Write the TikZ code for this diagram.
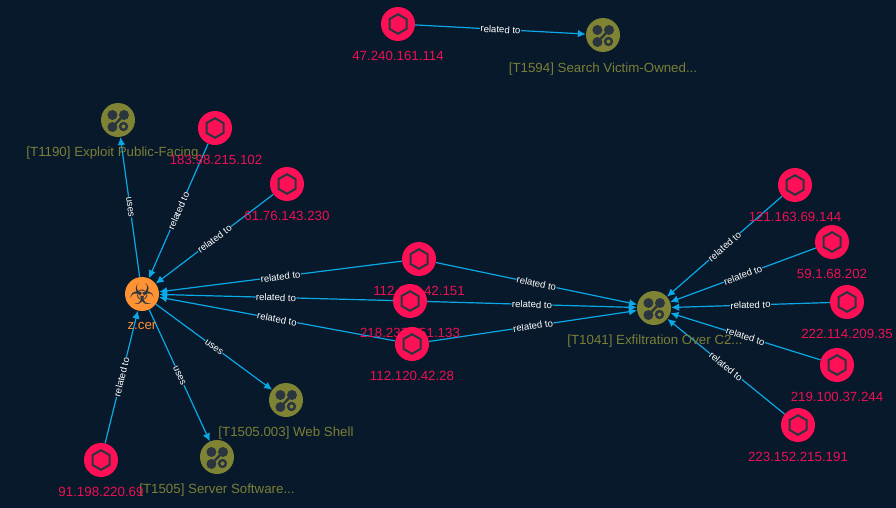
\documentclass[tikz,border=0pt]{standalone}
\usepackage{fontspec}
\setmainfont{Liberation Sans}
\newfontfamily\symfont{DejaVu Sans}
\usetikzlibrary{arrows.meta}
\definecolor{bgcol}{HTML}{07192A}
\definecolor{ipcol}{HTML}{FF0F55}
\definecolor{iptext}{HTML}{EE1054}
\definecolor{apcol}{HTML}{7F8435}
\definecolor{aptext}{HTML}{7B7F36}
\definecolor{malcol}{HTML}{FF9233}
\definecolor{iconcol}{HTML}{2A3540}
\definecolor{linkcol}{HTML}{0BA8E8}
\pgfdeclarelayer{linklayer}
\pgfsetlayers{linklayer,main}
\tikzset{
	ipnode/.style={circle,fill=ipcol,inner sep=0,minimum size=34,
		path picture={
			\draw[iconcol,line width=2,line join=miter,shift={(path picture bounding box.center)}]
			(0,-9.8) -- (8.5,-4.9) -- (8.5,4.9) -- (0,9.8) -- (-8.5,4.9) -- (-8.5,-4.9) -- cycle;
		}},
	apnode/.style={circle,fill=apcol,inner sep=0,minimum size=34,
		path picture={
			\begin{scope}[shift={(path picture bounding box.center)}]
				\draw[iconcol,line width=2.4] (6,-5) -- (-5.6,7);
				\fill[iconcol] (-5.6,-5) circle (5) (6,-5) circle (5) (-5.6,7) circle (5);
				\draw[iconcol,line width=2.4] (5.5,6.5) circle (3.4);
			\end{scope}
		}},
	iplabel/.style={text=iptext,font=\fontsize{13.3}{15}\selectfont,inner sep=0},
	aplabel/.style={text=aptext,font=\fontsize{13.3}{15}\selectfont,inner sep=0,yshift=-.7pt},
	rel/.style={linkcol,line width=1.2,-{Latex[length=8pt,width=7.5pt]}},
	elabel/.style={sloped,midway,fill=bgcol,text=white,font=\fontsize{9.6}{11}\selectfont,inner sep=.4},
}
\begin{document}
\begin{tikzpicture}[x=1pt,y=-1pt]
	\useasboundingbox (0,0) rectangle (896,508);
	% texts, under the nodes
	\node[text=malcol,font=\fontsize{13.3}{15}\selectfont,inner sep=0] (lz) at (142,326) {z.cer};
	\node[aplabel] (lt90) at (118,152) {[T1190] Exploit Public-Facing...};
	\node[iplabel] (la) at (216,160) {183.98.215.102};
	\node[iplabel] (lb) at (287,216) {61.76.143.230};
	\node[iplabel] (lc) at (398,56) {47.240.161.114};
	\node[aplabel] (lt94) at (603,68) {[T1594] Search Victim-Owned...};
	\node[iplabel] (ld) at (419,291) {112.120.42.151};
	\node[iplabel] (le) at (410,333) {218.237.251.133};
	\node[iplabel] (lf) at (412,376) {112.120.42.28};
	\node[aplabel] (lt41) at (655,340) {[T1041] Exfiltration Over C2...};
	\node[iplabel] (lg) at (795,217) {121.163.69.144};
	\node[iplabel] (lh) at (832,274) {59.1.68.202};
	\node[iplabel] (li) at (847,334) {222.114.209.35};
	\node[iplabel] (lj) at (837,397) {219.100.37.244};
	\node[iplabel] (lk) at (798,457) {223.152.215.191};
	\node[aplabel] (lt53) at (286,432) {[T1505.003] Web Shell};
	\node[aplabel] (lt05) at (217,489) {[T1505] Server Software...};
	\node[iplabel] (lm) at (101,492) {91.198.220.69};
	% nodes
	\node[circle,fill=malcol,inner sep=0,minimum size=34] (z) at (142,294) {\symfont\fontsize{29}{29}\selectfont\textcolor{iconcol}{☣}};
	\node[apnode] (t90) at (118,120) {};
	\node[ipnode] (a) at (215,128) {};
	\node[ipnode] (b) at (287,184) {};
	\node[ipnode] (c) at (398,24) {};
	\node[apnode] (t94) at (603,35) {};
	\node[ipnode] (d) at (419,259) {};
	\node[ipnode] (e) at (410,301) {};
	\node[ipnode] (f) at (412,344) {};
	\node[apnode] (t41) at (654,308) {};
	\node[ipnode] (g) at (795,185) {};
	\node[ipnode] (h) at (832,242) {};
	\node[ipnode] (i) at (847,302) {};
	\node[ipnode] (j) at (837,365) {};
	\node[ipnode] (k) at (798,425) {};
	\node[apnode] (t53) at (286,400) {};
	\node[apnode] (t05) at (217,457) {};
	\node[ipnode] (m) at (101,460) {};
	% links
	\begin{pgfonlayer}{linklayer}
		\fill[bgcol] (0,0) rectangle (896,508);
		\draw[rel] (c) -- node[elabel] {related to} (t94);
		\draw[rel] (z) -- node[elabel] {uses} (t90);
		\draw[rel] (z) -- node[elabel] {uses} (t53);
		\draw[rel] (z) -- node[elabel] {uses} (t05);
		\draw[rel] (a) -- node[elabel] {related to} (z);
		\draw[rel] (b) -- node[elabel] {related to} (z);
		\draw[rel] (d) -- node[elabel] {related to} (z);
		\draw[rel] (e) -- node[elabel] {related to} (z);
		\draw[rel] (f) -- node[elabel] {related to} (z);
		\draw[rel] (m) -- node[elabel] {related to} (z);
		\draw[rel] (d) -- node[elabel] {related to} (t41);
		\draw[rel] (e) -- node[elabel] {related to} (t41);
		\draw[rel] (f) -- node[elabel] {related to} (t41);
		\draw[rel] (g) -- node[elabel] {related to} (t41);
		\draw[rel] (h) -- node[elabel] {related to} (t41);
		\draw[rel] (i) -- node[elabel] {related to} (t41);
		\draw[rel] (j) -- node[elabel] {related to} (t41);
		\draw[rel] (k) -- node[elabel] {related to} (t41);
	\end{pgfonlayer}
\end{tikzpicture}
\end{document}
